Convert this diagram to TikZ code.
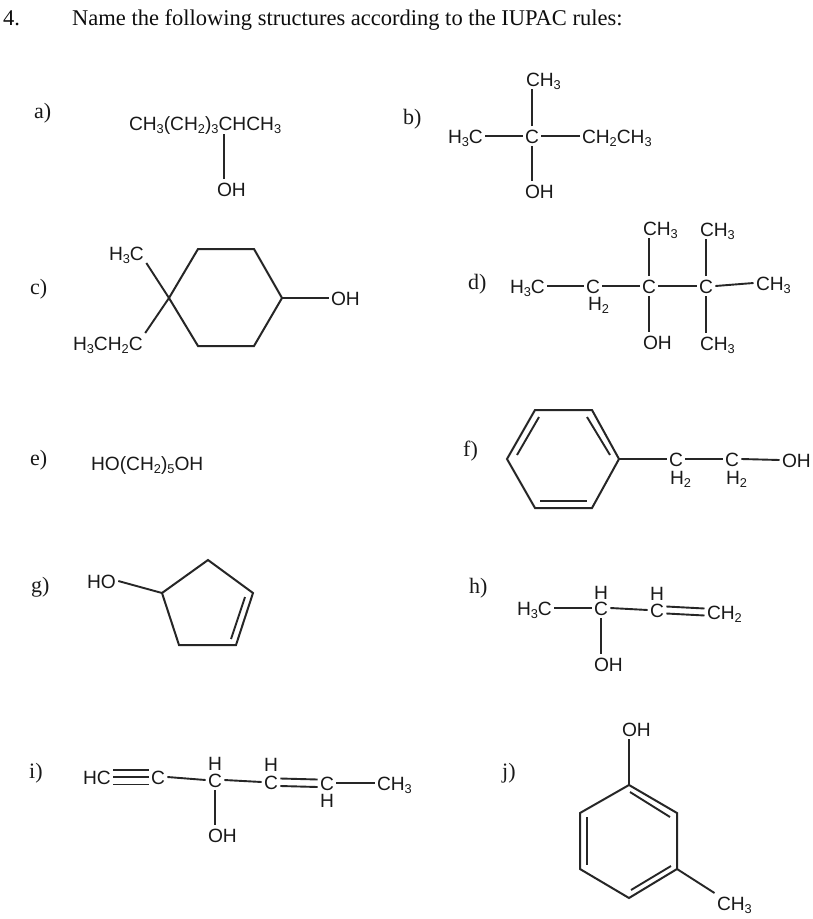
\documentclass[tikz,border=0pt]{standalone}
\usepackage{fontspec}
\setmainfont{Liberation Serif}
\newfontfamily\chemfont{Liberation Sans}
\newcommand{\su}[1]{\raisebox{-3.2pt}{\fontsize{12.8}{13}\selectfont #1}}
\tikzset{
  atom/.style={font=\chemfont\fontsize{19.2}{20}\selectfont,inner xsep=2.5pt,inner ysep=3pt,outer sep=0pt,text height=14pt,text depth=0pt,black!90},
  lft/.style={atom,anchor=west,xshift=-2.5pt},
  lab/.style={font=\fontsize{22}{24}\selectfont,inner sep=0pt,anchor=west,black!90},
  head/.style={font=\fontsize{22.5}{24}\selectfont,inner sep=0pt,anchor=base west,black!95},
  bond/.style={line width=1.9pt,black!85},
  ring/.style={line width=2pt,black!85,line join=miter}
}
\begin{document}
\begin{tikzpicture}[x=1pt,y=-1pt]
\useasboundingbox[fill=white] (0,0) rectangle (813,919);
% heading
\node[head] (n4) at (3,25) {4.};
\node[head] (title) at (72,25) {Name the following structures according to the IUPAC rules:};
% item labels
\node[lab] (la) at (34,113) {a)};
\node[lab] (lb) at (403,119) {b)};
\node[lab] (lc) at (30,289) {c)};
\node[lab] (ld) at (468,284) {d)};
\node[lab] (le) at (30,460) {e)};
\node[lab] (lf) at (463,451) {f)};
\node[lab] (lg) at (31,587) {g)};
\node[lab] (lh) at (469,588) {h)};
\node[lab] (li) at (29,773) {i)};
\node[lab] (lj) at (502,773) {j)};
% a
\node[lft] (aT) at (129,123) {CH\su{3}(CH\su{2})\su{3}CHCH\su{3}};
\node[lft] (aOH) at (217,189) {OH};
\coordinate (aC) at (224,134);
\draw[bond] (aC) -- (aC |- aOH.north);
% b
\node[lft] (bL) at (448,136) {H\su{3}C};
\node[atom] (bC) at (532,136) {C};
\node[lft] (bR) at (582,136) {CH\su{2}CH\su{3}};
\node[lft] (bT) at (526,79) {CH\su{3}};
\node[lft] (bO) at (525,191) {OH};
\draw[bond] (bL.east) -- (bC.west);
\draw[bond] (bC.east) -- (bR.west);
\draw[bond] (bC.north) -- (bC.north |- bT.south);
\draw[bond] (bC.south) -- (bC.south |- bO.north);
% c
\coordinate (c1) at (169,298);
\coordinate (c2) at (198,249);
\coordinate (c3) at (254,249);
\coordinate (c4) at (282,298);
\coordinate (c5) at (254,346);
\coordinate (c6) at (198,346);
\draw[ring] (c1) -- (c2) -- (c3) -- (c4) -- (c5) -- (c6) -- cycle;
\node[lft] (cM) at (109,253) {H\su{3}C};
\node[lft] (cE) at (73,343) {H\su{3}CH\su{2}C};
\node[lft] (cO) at (331,298) {OH};
\draw[bond] (c1) -- (cM.south east);
\draw[bond] (c1) -- (cE.north east);
\draw[bond] (c4) -- (cO.west);
% d
\node[lft] (dA) at (510,286) {H\su{3}C};
\node[atom] (dB) at (593,286) {C};
\node[lft] (dB2) at (588,303) {H\su{2}};
\node[atom] (dC) at (649,286) {C};
\node[atom] (dD) at (706,286) {C};
\node[lft] (dCT) at (643,228) {CH\su{3}};
\node[lft] (dDT) at (700,229) {CH\su{3}};
\node[lft] (dO) at (643,342) {OH};
\node[lft] (dDB) at (700,343) {CH\su{3}};
\node[lft] (dE) at (756,283) {CH\su{3}};
\draw[bond] (dA.east) -- (dB.west);
\draw[bond] (dB.east) -- (dC.west);
\draw[bond] (dC.east) -- (dD.west);
\draw[bond] (dD.east) -- (dE.west);
\draw[bond] (dC.north) -- (dC.north |- dCT.south);
\draw[bond] (dD.north) -- (dD.north |- dDT.south);
\draw[bond] (dC.south) -- (dC.south |- dO.north);
\draw[bond] (dD.south) -- (dD.south |- dDB.north);
% e
\node[lft] (eT) at (91,463) {HO(CH\su{2})\su{5}OH};
% f
\coordinate (f1) at (507,459);
\coordinate (f2) at (535,410);
\coordinate (f3) at (592,410);
\coordinate (f4) at (619,459);
\coordinate (f5) at (592,508);
\coordinate (f6) at (535,508);
\draw[ring] (f1) -- (f2) -- (f3) -- (f4) -- (f5) -- (f6) -- cycle;
\coordinate (fa1) at (539,417); \coordinate (fa2) at (517,455);
\coordinate (fb1) at (587,417); \coordinate (fb2) at (610,455);
\coordinate (fc1) at (540,501); \coordinate (fc2) at (587,501);
\draw[bond] (fa1) -- (fa2);
\draw[bond] (fb1) -- (fb2);
\draw[bond] (fc1) -- (fc2);
\node[atom] (fA) at (676,459) {C};
\node[lft] (fA2) at (670,477) {H\su{2}};
\node[atom] (fB) at (732,459) {C};
\node[lft] (fB2) at (726,477) {H\su{2}};
\node[lft] (fO) at (782,460) {OH};
\draw[bond] (f4) -- (fA.west);
\draw[bond] (fA.east) -- (fB.west);
\draw[bond] (fB.east) -- (fO.west);
% g
\coordinate (g1) at (162,593);
\coordinate (g2) at (208,560);
\coordinate (g3) at (253,593);
\coordinate (g4) at (236,645);
\coordinate (g5) at (179,645);
\draw[ring] (g1) -- (g2) -- (g3) -- (g4) -- (g5) -- cycle;
\coordinate (gi1) at (245,597); \coordinate (gi2) at (231,639);
\draw[bond] (gi1) -- (gi2);
\node[lft] (gO) at (87,581) {HO};
\draw[bond] (gO.east) -- (g1);
% h
\node[lft] (hA) at (517,608) {H\su{3}C};
\node[atom] (hB) at (601,608) {C};
\node[atom] (hBH) at (601,592) {H};
\node[atom] (hC) at (657,610) {C};
\node[atom] (hCH) at (657,593) {H};
\node[lft] (hD) at (707,612) {CH\su{2}};
\node[lft] (hO) at (594,664) {OH};
\draw[bond] (hA.east) -- (hB.west);
\draw[bond] (hB.east) -- (hC.west);
\draw[bond] ([yshift=-3.5pt]hC.east) -- ([yshift=-3.5pt]hD.west);
\draw[bond] ([yshift=3.5pt]hC.east) -- ([yshift=3.5pt]hD.west);
\draw[bond] (hB.south) -- (hB.south |- hO.north);
% i
\node[lft] (iA) at (83,777) {HC};
\node[atom] (iB) at (158,777) {C};
\node[atom] (iC) at (215,780) {C};
\node[atom] (iCH) at (215,763) {H};
\node[atom] (iD) at (271,782) {C};
\node[atom] (iDH) at (271,764) {H};
\node[atom] (iE) at (327,783) {C};
\node[atom] (iEH) at (327,800) {H};
\node[lft] (iF) at (377,783) {CH\su{3}};
\node[lft] (iO) at (208,835) {OH};
\draw[bond] (iA.east) -- (iB.west);
\draw[bond] ([yshift=-7.5pt]iA.east) -- ([yshift=-7.5pt]iB.west);
\draw[bond] ([yshift=7pt]iA.east) -- ([yshift=7pt]iB.west);
\draw[bond] (iB.east) -- (iC.west);
\draw[bond] (iC.east) -- (iD.west);
\draw[bond] ([yshift=-4pt]iD.east) -- ([yshift=-4pt]iE.west);
\draw[bond] ([yshift=3.5pt]iD.east) -- ([yshift=3.5pt]iE.west);
\draw[bond] (iE.east) -- (iF.west);
\draw[bond] (iC.south) -- (iC.south |- iO.north);
% j
\coordinate (j1) at (629,785);
\coordinate (j2) at (677,813);
\coordinate (j3) at (677,869);
\coordinate (j4) at (629,898);
\coordinate (j5) at (580,869);
\coordinate (j6) at (580,813);
\draw[ring] (j1) -- (j2) -- (j3) -- (j4) -- (j5) -- (j6) -- cycle;
\coordinate (ja1) at (630,792); \coordinate (ja2) at (670,817);
\coordinate (jb1) at (587,817); \coordinate (jb2) at (587,865);
\coordinate (jc1) at (631,890); \coordinate (jc2) at (671,866);
\draw[bond] (ja1) -- (ja2);
\draw[bond] (jb1) -- (jb2);
\draw[bond] (jc1) -- (jc2);
\node[lft] (jO) at (622,729) {OH};
\node[lft] (jM) at (717,903) {CH\su{3}};
\draw[bond] (j1) -- (j1 |- jO.south);
\draw[bond] (j3) -- (jM.north west);
\end{tikzpicture}
\end{document}
